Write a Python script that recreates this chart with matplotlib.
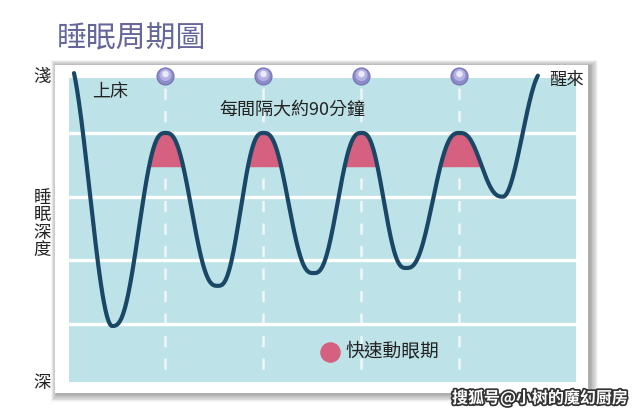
import numpy as np
import matplotlib
matplotlib.use("Agg")
import matplotlib.pyplot as plt
from matplotlib.patches import Rectangle
import matplotlib.patheffects as pe

plt.rcParams['font.family'] = ['Noto Sans CJK TC', 'DejaVu Sans']

# ---------------- data ----------------
title = "睡眠周期圖"
# key points of the sleep curve: time (minutes) and depth level (0 = light, larger = deeper)
times = [0, 35, 84, 132, 174, 220, 264, 305, 354, 394, 426]
depth = [0.06, 4.03, 1.0, 3.4, 1.0, 3.2, 1.0, 3.12, 1.0, 2.0, 0.1]
start_slope = 0.08     # depth per minute at "上床"
end_slope = -0.03      # depth per minute at "醒來"
rem_peaks = [84, 174, 264, 354]
rem_threshold = 1.53
grid_levels = [1, 2, 3, 4]
label_light, label_deep = "淺", "深"
label_axis = "睡眠深度"
label_bed, label_wake = "上床", "醒來"
label_interval = "每間隔大約90分鐘"
legend_label = "快速動眼期"
watermark = "搜狐号@小树的魔幻厨房"

# colours
c_blue = "#bde3e8"
c_curve = "#1b4766"
c_pink = "#d5607f"
c_title = "#67669a"

W, H = 640, 415
fig = plt.figure(figsize=(W / 100, H / 100), dpi=100)
fig.patch.set_facecolor("white")

# background axes in pixel coordinates for the card + shadow
bg = fig.add_axes([0, 0, 1, 1], zorder=-10)
bg.set_xlim(0, W)
bg.set_ylim(H, 0)
bg.axis("off")
px0, py0, px1, py1 = 55, 65, 588, 393
for i in range(10, 0, -1):
    bg.add_patch(Rectangle((px0 - i * 0.6 + 2, py0 - i * 0.6 + 1),
                           (px1 - px0) + i * 1.4, (py1 - py0) + i * 1.4,
                           facecolor="#000000", alpha=0.035, edgecolor="none"))
bg.add_patch(Rectangle((px0, py0), px1 - px0, py1 - py0, facecolor="white", edgecolor="none"))

# main axes (blue area)
ax_l, ax_r, ax_t, ax_b = 69, 576, 78, 382
ax = fig.add_axes([ax_l / W, 1 - ax_b / H, (ax_r - ax_l) / W, (ax_b - ax_t) / H])
ax.set_facecolor(c_blue)
for s in ax.spines.values():
    s.set_visible(False)
ax.set_xticks([])
ax.set_yticks([])
ax.set_xlim(-4.6, 461)
ax.set_ylim(4.91, 0.137)

# smooth curve through key points
xs, ys = [], []
n = len(times)
for i in range(n - 1):
    x0, x1 = times[i], times[i + 1]
    y0, y1 = depth[i], depth[i + 1]
    dx = x1 - x0
    t = np.linspace(0, 1, 100)
    if i == 0 or i == n - 2:
        m0 = start_slope if i == 0 else 0.0
        m1 = end_slope if i == n - 2 else 0.0
        h00 = 2 * t**3 - 3 * t**2 + 1
        h10 = t**3 - 2 * t**2 + t
        h01 = -2 * t**3 + 3 * t**2
        h11 = t**3 - t**2
        y = h00 * y0 + h10 * dx * m0 + h01 * y1 + h11 * dx * m1
    else:
        f = 6 * t**5 - 15 * t**4 + 10 * t**3
        y = y0 + (y1 - y0) * f
    xs.append(x0 + dx * t)
    ys.append(y)
xs = np.concatenate(xs)
ys = np.concatenate(ys)

# grid lines
for g in grid_levels:
    ax.axhline(g, color="white", lw=2.4, zorder=1)

# dashed vertical lines at each REM peak
ax.vlines(rem_peaks, 0.3, 4.75, colors="white", linestyles=(0, (4.5, 4.5)),
          lw=1.8, alpha=0.75, zorder=1.5)

# REM fill
for p in rem_peaks:
    k = times.index(p)
    lo, hi = times[k - 1], times[k + 1]
    m = (xs >= lo) & (xs <= hi)
    ax.fill_between(xs[m], ys[m], rem_threshold, where=ys[m] <= rem_threshold,
                    interpolate=True, color=c_pink, lw=0, zorder=2)

ax.plot(xs, ys, color=c_curve, lw=3.0, solid_capstyle="round", zorder=3, clip_on=False)

# circles at top
ax.scatter(rem_peaks, [0.105] * len(rem_peaks), s=150, color="#8d8bc8",
           edgecolors="#7371b3", linewidths=0.8, zorder=5, clip_on=False)
ax.scatter(rem_peaks, [0.09] * len(rem_peaks), s=75, color="#b3b2e3",
           edgecolors="none", zorder=6, clip_on=False)
ax.scatter(rem_peaks, [0.075] * len(rem_peaks), s=22, color="#e9e9f8",
           edgecolors="none", zorder=7, clip_on=False)

# texts inside the chart
ax.text(0.045, 0.954, label_bed, transform=ax.transAxes, fontsize=13,
        ha="left", va="center", color="#222222")
ax.text(0.44, 0.895, label_interval, transform=ax.transAxes, fontsize=13,
        ha="center", va="center", color="#222222")
ax.scatter([0.515], [0.099], s=190, color=c_pink, transform=ax.transAxes,
           zorder=5, clip_on=False)
ax.text(0.546, 0.099, legend_label, transform=ax.transAxes, fontsize=13.5,
        ha="left", va="center", color="#222222")

# texts outside
fig.text(549 / W, 1 - 80 / H, label_wake, fontsize=12.5, ha="left", va="center", color="#222222")
fig.text(42 / W, 1 - 77 / H, label_light, fontsize=12.5, ha="center", va="center", color="#222222")
fig.text(42 / W, 1 - 383 / H, label_deep, fontsize=12.5, ha="center", va="center", color="#222222")
fig.text(42 / W, 1 - 224 / H, "\n".join(label_axis), fontsize=12.5, ha="center", va="center",
         linespacing=0.95, color="#222222")
fig.text(57 / W, 1 - 39 / H, title, fontsize=21.5, ha="left", va="center", color=c_title,
         fontweight="medium")

fig.text(540 / W, 1 - 398 / H, watermark, fontsize=11.5, ha="center", va="center",
         color="white", fontweight="bold", family=['Noto Sans CJK SC', 'DejaVu Sans'],
         path_effects=[pe.withStroke(linewidth=2.5, foreground="#333333")])

fig.savefig("out.png", dpi=100)
